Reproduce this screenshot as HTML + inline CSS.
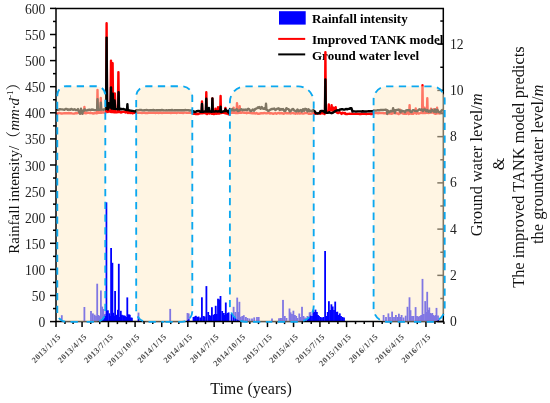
<!DOCTYPE html><html><head><meta charset="utf-8"><title>Rainfall and groundwater</title><style>html,body{margin:0;padding:0;background:#fff;}svg{display:block;}</style></head><body>
<svg width="550" height="403" viewBox="0 0 550 403">
<rect x="0" y="0" width="550" height="403" fill="#fff"/>
<g font-family="Liberation Serif, serif" font-weight="bold" font-size="13" fill="#000">
<rect x="279" y="11.2" width="26.7" height="13.4" fill="#0000ff"/>
<line x1="278.2" y1="38.9" x2="305.2" y2="38.9" stroke="#ff0000" stroke-width="2"/>
<line x1="278.2" y1="54.4" x2="305.2" y2="54.4" stroke="#000" stroke-width="2"/>
<text x="312" y="22.7">Rainfall intensity</text>
<text x="312" y="43.5">Improved TANK model</text>
<text x="312" y="59.8">Ground water level</text>
</g>
<g fill="#0000ff">
<rect x="60.90" y="315.2" width="1.8" height="6.6"/>
<rect x="83.50" y="307.0" width="1.8" height="14.8"/>
<rect x="90.10" y="311.0" width="1.8" height="10.8"/>
<rect x="92.00" y="313.4" width="1.8" height="8.4"/>
<rect x="93.80" y="314.7" width="1.8" height="7.1"/>
<rect x="95.10" y="316.0" width="1.8" height="5.8"/>
<rect x="96.30" y="283.7" width="1.8" height="38.1"/>
<rect x="97.60" y="315.0" width="1.8" height="6.8"/>
<rect x="98.80" y="316.0" width="1.8" height="5.8"/>
<rect x="100.00" y="290.5" width="1.8" height="31.3"/>
<rect x="101.30" y="306.6" width="1.8" height="15.2"/>
<rect x="102.50" y="309.0" width="1.8" height="12.8"/>
<rect x="103.60" y="314.0" width="1.8" height="7.8"/>
<rect x="105.50" y="202.3" width="1.8" height="119.5"/>
<rect x="107.00" y="310.3" width="1.8" height="11.5"/>
<rect x="108.50" y="313.3" width="1.8" height="8.5"/>
<rect x="110.20" y="248.0" width="1.8" height="73.8"/>
<rect x="111.50" y="262.8" width="1.8" height="59.0"/>
<rect x="112.50" y="312.8" width="1.8" height="9.0"/>
<rect x="114.20" y="291.0" width="1.8" height="30.8"/>
<rect x="115.30" y="314.8" width="1.8" height="7.0"/>
<rect x="117.00" y="309.8" width="1.8" height="12.0"/>
<rect x="117.90" y="263.8" width="1.8" height="58.0"/>
<rect x="119.90" y="310.8" width="1.8" height="11.0"/>
<rect x="121.10" y="314.8" width="1.8" height="7.0"/>
<rect x="122.90" y="315.3" width="1.8" height="6.5"/>
<rect x="124.10" y="315.8" width="1.8" height="6.0"/>
<rect x="126.40" y="297.4" width="1.8" height="24.4"/>
<rect x="127.90" y="314.3" width="1.8" height="7.5"/>
<rect x="128.90" y="314.8" width="1.8" height="7.0"/>
<rect x="131.00" y="317.7" width="1.8" height="4.1"/>
<rect x="104.30" y="316.0" width="1.8" height="5.8"/>
<rect x="109.30" y="316.0" width="1.8" height="5.8"/>
<rect x="113.40" y="316.0" width="1.8" height="5.8"/>
<rect x="118.90" y="317.0" width="1.8" height="4.8"/>
<rect x="120.70" y="316.0" width="1.8" height="5.8"/>
<rect x="123.70" y="317.0" width="1.8" height="4.8"/>
<rect x="125.30" y="317.0" width="1.8" height="4.8"/>
<rect x="129.90" y="317.5" width="1.8" height="4.3"/>
<rect x="137.60" y="312.6" width="1.8" height="9.2"/>
<rect x="169.30" y="308.9" width="1.8" height="12.9"/>
<rect x="186.60" y="313.0" width="1.8" height="8.8"/>
<rect x="187.80" y="313.5" width="1.8" height="8.3"/>
<rect x="192.60" y="317.0" width="1.8" height="4.8"/>
<rect x="193.80" y="316.5" width="1.8" height="5.3"/>
<rect x="195.00" y="315.8" width="1.8" height="6.0"/>
<rect x="196.30" y="317.0" width="1.8" height="4.8"/>
<rect x="197.60" y="316.5" width="1.8" height="5.3"/>
<rect x="199.30" y="317.5" width="1.8" height="4.3"/>
<rect x="201.00" y="297.3" width="1.8" height="24.5"/>
<rect x="202.60" y="316.0" width="1.8" height="5.8"/>
<rect x="203.90" y="316.5" width="1.8" height="5.3"/>
<rect x="205.50" y="286.1" width="1.8" height="35.7"/>
<rect x="207.30" y="312.0" width="1.8" height="9.8"/>
<rect x="208.70" y="315.0" width="1.8" height="6.8"/>
<rect x="209.90" y="316.0" width="1.8" height="5.8"/>
<rect x="211.00" y="307.2" width="1.8" height="14.6"/>
<rect x="212.60" y="315.0" width="1.8" height="6.8"/>
<rect x="213.70" y="314.0" width="1.8" height="7.8"/>
<rect x="214.80" y="305.8" width="1.8" height="16.0"/>
<rect x="215.90" y="314.0" width="1.8" height="7.8"/>
<rect x="217.10" y="298.7" width="1.8" height="23.1"/>
<rect x="218.20" y="299.4" width="1.8" height="22.4"/>
<rect x="219.60" y="296.0" width="1.8" height="25.8"/>
<rect x="221.30" y="311.0" width="1.8" height="10.8"/>
<rect x="222.90" y="313.0" width="1.8" height="8.8"/>
<rect x="223.90" y="315.0" width="1.8" height="6.8"/>
<rect x="224.90" y="302.5" width="1.8" height="19.3"/>
<rect x="226.10" y="314.0" width="1.8" height="7.8"/>
<rect x="226.70" y="313.0" width="1.8" height="8.8"/>
<rect x="227.70" y="312.4" width="1.8" height="9.4"/>
<rect x="230.60" y="314.0" width="1.8" height="7.8"/>
<rect x="232.70" y="306.8" width="1.8" height="15.0"/>
<rect x="234.40" y="312.0" width="1.8" height="9.8"/>
<rect x="236.30" y="297.6" width="1.8" height="24.2"/>
<rect x="237.40" y="312.0" width="1.8" height="9.8"/>
<rect x="238.50" y="301.8" width="1.8" height="20.0"/>
<rect x="239.90" y="316.8" width="1.8" height="5.0"/>
<rect x="241.40" y="316.0" width="1.8" height="5.8"/>
<rect x="242.90" y="315.2" width="1.8" height="6.6"/>
<rect x="245.00" y="317.0" width="1.8" height="4.8"/>
<rect x="246.60" y="318.0" width="1.8" height="3.8"/>
<rect x="248.60" y="318.5" width="1.8" height="3.3"/>
<rect x="251.10" y="318.5" width="1.8" height="3.3"/>
<rect x="253.30" y="317.4" width="1.8" height="4.4"/>
<rect x="256.10" y="317.0" width="1.8" height="4.8"/>
<rect x="257.80" y="317.0" width="1.8" height="4.8"/>
<rect x="271.10" y="318.5" width="1.8" height="3.3"/>
<rect x="278.10" y="318.3" width="1.8" height="3.5"/>
<rect x="279.60" y="318.0" width="1.8" height="3.8"/>
<rect x="281.10" y="318.0" width="1.8" height="3.8"/>
<rect x="282.10" y="299.9" width="1.8" height="21.9"/>
<rect x="283.90" y="316.0" width="1.8" height="5.8"/>
<rect x="285.60" y="318.0" width="1.8" height="3.8"/>
<rect x="288.60" y="308.5" width="1.8" height="13.3"/>
<rect x="289.70" y="312.4" width="1.8" height="9.4"/>
<rect x="291.10" y="314.0" width="1.8" height="7.8"/>
<rect x="292.50" y="310.7" width="1.8" height="11.1"/>
<rect x="294.00" y="315.0" width="1.8" height="6.8"/>
<rect x="295.30" y="316.0" width="1.8" height="5.8"/>
<rect x="296.60" y="318.0" width="1.8" height="3.8"/>
<rect x="298.40" y="313.5" width="1.8" height="8.3"/>
<rect x="299.60" y="317.0" width="1.8" height="4.8"/>
<rect x="301.10" y="306.8" width="1.8" height="15.0"/>
<rect x="302.60" y="316.0" width="1.8" height="5.8"/>
<rect x="304.10" y="317.5" width="1.8" height="4.3"/>
<rect x="306.50" y="316.0" width="1.8" height="5.8"/>
<rect x="307.60" y="317.0" width="1.8" height="4.8"/>
<rect x="308.70" y="312.4" width="1.8" height="9.4"/>
<rect x="309.60" y="312.0" width="1.8" height="9.8"/>
<rect x="311.10" y="316.0" width="1.8" height="5.8"/>
<rect x="312.40" y="309.6" width="1.8" height="12.2"/>
<rect x="313.40" y="312.0" width="1.8" height="9.8"/>
<rect x="314.60" y="309.6" width="1.8" height="12.2"/>
<rect x="316.00" y="312.0" width="1.8" height="9.8"/>
<rect x="317.10" y="315.0" width="1.8" height="6.8"/>
<rect x="318.10" y="316.0" width="1.8" height="5.8"/>
<rect x="319.60" y="317.0" width="1.8" height="4.8"/>
<rect x="321.10" y="317.5" width="1.8" height="4.3"/>
<rect x="322.60" y="317.0" width="1.8" height="4.8"/>
<rect x="324.20" y="251.0" width="1.8" height="70.8"/>
<rect x="325.60" y="316.0" width="1.8" height="5.8"/>
<rect x="326.80" y="312.0" width="1.8" height="9.8"/>
<rect x="328.00" y="301.2" width="1.8" height="20.6"/>
<rect x="329.30" y="310.0" width="1.8" height="11.8"/>
<rect x="330.50" y="304.3" width="1.8" height="17.5"/>
<rect x="331.80" y="306.5" width="1.8" height="15.3"/>
<rect x="333.10" y="310.0" width="1.8" height="11.8"/>
<rect x="334.30" y="301.6" width="1.8" height="20.2"/>
<rect x="335.40" y="312.0" width="1.8" height="9.8"/>
<rect x="336.40" y="311.7" width="1.8" height="10.1"/>
<rect x="337.60" y="315.0" width="1.8" height="6.8"/>
<rect x="338.90" y="313.4" width="1.8" height="8.4"/>
<rect x="340.10" y="316.0" width="1.8" height="5.8"/>
<rect x="341.60" y="317.0" width="1.8" height="4.8"/>
<rect x="343.10" y="317.5" width="1.8" height="4.3"/>
<rect x="382.70" y="315.0" width="1.8" height="6.8"/>
<rect x="385.10" y="317.0" width="1.8" height="4.8"/>
<rect x="387.50" y="313.4" width="1.8" height="8.4"/>
<rect x="389.10" y="317.0" width="1.8" height="4.8"/>
<rect x="391.20" y="311.6" width="1.8" height="10.2"/>
<rect x="393.10" y="317.0" width="1.8" height="4.8"/>
<rect x="395.00" y="315.0" width="1.8" height="6.8"/>
<rect x="396.60" y="317.0" width="1.8" height="4.8"/>
<rect x="398.00" y="313.7" width="1.8" height="8.1"/>
<rect x="399.30" y="317.0" width="1.8" height="4.8"/>
<rect x="400.70" y="315.0" width="1.8" height="6.8"/>
<rect x="402.60" y="317.5" width="1.8" height="4.3"/>
<rect x="404.80" y="315.7" width="1.8" height="6.1"/>
<rect x="406.60" y="306.8" width="1.8" height="15.0"/>
<rect x="408.60" y="297.3" width="1.8" height="24.5"/>
<rect x="409.60" y="310.2" width="1.8" height="11.6"/>
<rect x="411.10" y="316.0" width="1.8" height="5.8"/>
<rect x="412.60" y="316.0" width="1.8" height="5.8"/>
<rect x="414.70" y="307.1" width="1.8" height="14.7"/>
<rect x="416.10" y="316.0" width="1.8" height="5.8"/>
<rect x="417.60" y="316.5" width="1.8" height="5.3"/>
<rect x="419.10" y="316.0" width="1.8" height="5.8"/>
<rect x="420.30" y="315.0" width="1.8" height="6.8"/>
<rect x="421.60" y="278.9" width="1.8" height="42.9"/>
<rect x="422.90" y="314.0" width="1.8" height="7.8"/>
<rect x="424.30" y="301.1" width="1.8" height="20.7"/>
<rect x="425.30" y="312.0" width="1.8" height="9.8"/>
<rect x="426.30" y="291.8" width="1.8" height="30.0"/>
<rect x="427.40" y="310.0" width="1.8" height="11.8"/>
<rect x="428.40" y="307.5" width="1.8" height="14.3"/>
<rect x="429.60" y="313.0" width="1.8" height="8.8"/>
<rect x="430.50" y="314.0" width="1.8" height="7.8"/>
<rect x="431.40" y="313.0" width="1.8" height="8.8"/>
<rect x="432.60" y="315.0" width="1.8" height="6.8"/>
<rect x="433.60" y="316.0" width="1.8" height="5.8"/>
<rect x="434.90" y="315.0" width="1.8" height="6.8"/>
<rect x="435.60" y="307.9" width="1.8" height="13.9"/>
<rect x="437.10" y="315.5" width="1.8" height="6.3"/>
</g>
<polyline points="56.5,113.7 57.6,113.7 58.7,112.9 59.8,113.0 60.9,113.5 62.1,113.5 63.2,113.4 64.3,113.1 65.4,113.3 66.5,113.3 67.6,113.3 68.7,113.0 69.8,113.2 70.9,113.1 72.1,113.4 73.2,113.6 74.3,113.6 75.4,113.2 76.5,113.2 77.6,113.0 78.7,112.8 79.8,112.8 80.9,113.1 82.1,113.0 83.2,113.1 84.0,113.1 84.4,107.0 84.8,113.1 85.4,113.2 86.5,113.2 87.6,112.9 88.7,112.8 89.8,113.0 90.9,112.8 92.1,113.1 93.2,113.5 94.3,113.3 95.4,112.9 96.5,113.4 97.1,113.1 97.5,90.0 97.9,113.1 98.2,112.7 99.4,112.8 100.4,112.7 100.8,98.0 101.2,112.7 101.9,112.7 103.1,112.3 104.3,112.7 105.5,112.7 105.6,110.5 106.1,111.2 106.6,23.3 107.1,111.2 107.8,111.9 108.9,111.3 110.0,111.5 110.5,112.0 111.0,60.6 111.5,112.0 112.1,112.1 112.6,63.1 113.1,112.1 114.3,112.3 114.8,93.4 115.3,112.3 116.6,112.4 117.9,112.1 118.4,72.1 118.9,112.1 119.9,111.7 121.0,112.6 121.0,112.4 122.2,112.0 123.3,111.7 124.5,111.9 125.6,112.5 126.8,111.7 127.9,113.0 129.1,112.0 130.2,113.1 131.4,112.2 132.5,113.3 133.7,112.9 134.8,112.7 136.0,112.7 136.5,112.9 137.6,112.8 138.7,112.7 139.8,112.7 140.9,112.8 142.1,113.0 143.2,112.9 144.3,112.6 145.4,113.0 146.5,112.9 147.6,113.0 148.7,112.6 149.8,112.9 150.9,112.6 152.0,112.9 153.2,112.7 154.3,112.7 155.4,113.0 156.5,112.6 157.6,112.8 158.7,113.0 159.8,112.7 160.9,112.7 162.0,113.0 163.1,112.8 164.2,112.9 165.4,112.6 166.5,112.7 167.6,112.6 168.7,112.9 169.8,112.6 170.9,113.0 172.0,112.6 173.1,112.9 174.2,112.6 175.3,112.7 176.5,113.0 177.6,112.6 178.7,112.6 179.8,112.9 180.9,112.7 182.0,112.6 183.1,113.0 184.2,112.6 185.3,112.6 186.4,112.7 187.6,112.9 188.7,112.9 189.8,112.6 190.9,112.7 192.0,112.6 192.5,113.3 193.6,113.8 194.7,113.8 195.9,114.0 197.0,113.8 198.1,114.0 199.2,113.7 200.4,113.4 201.6,113.2 202.0,101.4 202.4,113.2 203.7,113.1 204.9,112.8 205.9,113.4 206.3,92.3 206.7,113.4 207.1,114.0 208.2,112.8 209.4,113.5 210.5,113.2 211.6,113.4 212.0,113.8 212.4,98.4 212.8,113.8 213.9,114.1 214.9,113.7 215.4,108.8 215.9,113.7 217.5,113.6 218.0,107.1 218.5,113.6 219.5,113.5 220.2,113.1 220.6,96.0 221.0,113.1 221.7,112.7 222.9,112.7 224.0,112.9 224.9,113.2 225.4,107.9 225.9,113.2 226.2,113.6 227.4,113.4 228.5,114.2 229.6,114.1 230.0,113.3 231.1,112.5 232.2,112.8 233.2,112.9 233.6,107.6 234.0,112.9 234.4,112.9 235.6,113.0 236.6,113.0 237.0,103.1 237.4,113.0 237.8,113.1 238.9,112.6 239.3,112.8 239.7,106.1 240.1,112.8 241.1,112.9 242.2,112.4 243.3,112.5 244.4,112.9 245.6,112.6 246.7,113.2 247.8,112.7 248.9,112.6 250.0,112.7 250.0,113.0 251.1,113.0 252.2,113.3 253.3,113.3 254.4,113.1 255.5,113.5 256.6,113.0 257.7,113.7 258.8,113.8 259.9,113.5 261.1,113.3 262.2,113.3 263.3,113.4 264.4,112.9 265.5,113.2 266.6,113.4 267.7,113.0 268.8,112.9 269.9,113.6 271.0,113.2 272.1,113.4 273.2,113.8 274.3,113.4 275.4,113.1 276.5,113.8 277.6,113.2 278.7,112.9 279.8,113.5 280.9,113.0 282.1,113.2 283.2,113.7 284.3,113.5 285.4,112.9 286.5,113.3 287.6,113.3 288.7,113.3 289.8,113.1 290.9,113.5 292.0,112.9 293.1,113.2 294.2,113.2 295.3,113.8 296.4,113.0 297.5,113.6 298.6,113.1 299.7,113.5 300.8,113.3 301.9,113.3 303.1,113.6 304.2,113.3 305.3,113.0 306.4,113.0 307.5,113.0 308.6,113.7 309.7,113.5 310.8,113.9 311.9,113.6 313.0,112.9 313.5,113.6 314.6,113.7 315.7,113.7 316.8,113.3 317.9,113.1 319.0,113.2 320.1,113.8 321.2,112.9 322.3,113.3 323.4,113.3 324.5,114.0 325.0,112.6 325.4,52.1 325.8,112.6 326.5,111.2 327.7,111.7 328.4,110.8 328.8,104.5 329.2,110.8 330.1,109.9 331.2,110.2 331.6,105.3 332.0,110.2 332.4,110.6 333.1,110.5 333.5,107.8 333.9,110.5 334.8,110.5 335.2,111.6 335.7,107.3 336.2,111.6 337.1,112.6 338.2,113.1 339.4,112.1 340.5,112.7 341.6,113.9 342.8,112.7 343.9,113.3 345.0,112.9 345.0,113.8 346.1,114.0 347.2,114.0 348.4,113.9 349.5,113.8 350.6,113.9 351.7,113.8 352.8,113.9 354.0,113.9 355.1,113.9 356.2,113.9 357.3,113.8 358.4,113.9 359.6,114.0 360.7,114.0 361.8,113.8 362.9,113.9 364.0,113.9 365.2,113.9 366.3,114.0 367.4,113.9 368.5,113.9 369.6,113.9 370.8,114.0 371.9,114.0 373.0,113.9 373.5,113.0 374.6,113.1 375.8,113.0 376.9,113.1 378.0,113.2 379.2,113.0 380.3,113.1 381.5,113.1 382.6,113.1 383.7,113.2 384.9,113.2 386.0,113.2 386.5,113.2 387.6,114.0 388.7,112.9 389.8,113.6 390.9,113.5 392.0,113.7 392.3,113.2 392.7,110.7 393.1,113.2 394.3,112.7 395.4,113.4 396.5,113.0 397.6,113.5 398.7,114.1 399.6,113.2 400.0,109.8 400.4,113.2 400.9,112.3 402.0,113.1 403.1,113.6 404.2,113.9 405.3,113.5 406.4,113.8 407.5,112.3 408.7,114.0 409.2,113.7 409.6,105.1 410.0,113.7 410.9,113.4 412.0,113.9 413.1,113.9 414.2,112.5 415.3,113.1 415.7,108.5 416.1,113.1 416.4,113.7 417.5,112.7 418.6,113.6 419.7,113.4 420.8,112.6 422.1,113.0 422.5,85.3 422.9,113.0 424.1,113.1 424.5,107.8 424.9,113.1 425.3,113.1 426.4,112.8 426.9,112.9 427.3,98.3 427.7,112.9 428.6,113.1 429.7,112.7 430.6,112.6 431.0,108.8 431.4,112.6 431.9,112.4 433.0,112.3 433.6,113.1 434.0,109.3 434.4,113.1 435.2,113.8 436.4,113.5 436.7,113.3 437.1,107.8 437.5,113.3 438.6,113.2 439.7,113.5 440.8,112.9 441.9,112.8 443.0,113.2" fill="none" stroke="#ff0000" stroke-width="2.4" stroke-linejoin="round"/>
<polyline points="56.5,109.0 57.6,109.8 58.8,109.7 59.9,109.1 61.0,109.4 62.2,109.4 63.3,109.6 64.4,109.8 65.6,109.0 66.7,108.9 67.8,109.9 68.9,109.4 70.1,109.8 71.2,108.9 72.3,109.5 73.5,109.8 74.6,109.2 75.7,110.1 76.9,110.1 78.0,109.0 78.5,110.8 78.9,110.8 79.2,112.3 79.7,111.5 80.0,113.8 80.3,111.5 80.7,111.2 81.0,108.8 81.3,111.2 81.8,110.8 82.1,110.8 82.4,113.8 82.7,110.8 84.0,110.8 84.5,109.4 85.7,110.1 86.9,110.5 88.1,109.9 89.3,109.7 90.5,110.0 91.7,109.5 92.9,109.7 94.1,110.0 95.3,110.1 96.5,109.8 97.1,109.7 97.5,99.3 97.9,109.7 98.3,109.6 99.6,109.8 100.4,109.6 100.8,102.6 101.2,109.6 102.2,109.5 103.5,110.0 103.5,109.4 105.5,109.2 105.6,108.3 106.1,108.8 106.6,37.6 107.1,108.8 107.8,109.4 108.4,109.0 108.8,103.1 109.2,106.1 109.5,103.8 109.8,106.1 110.5,107.6 111.0,87.4 111.5,107.6 111.7,108.6 112.3,108.6 112.8,93.8 113.3,108.6 114.0,108.8 114.6,100.5 115.2,108.8 116.6,109.1 118.1,109.2 118.6,92.2 119.1,109.2 119.9,109.4 121.0,109.4 121.0,108.8 122.2,109.1 123.3,109.0 124.5,109.3 125.6,109.8 127.0,110.1 127.4,104.3 127.8,110.1 129.1,110.3 130.2,110.6 131.4,110.8 132.5,110.9 133.7,111.1 134.8,111.4 136.0,111.8 136.5,110.1 137.6,110.1 138.7,110.1 139.8,109.9 140.9,109.9 142.1,110.2 143.2,110.4 144.3,110.2 145.4,110.1 146.5,110.0 147.6,110.1 148.7,110.4 149.8,110.3 150.9,110.2 152.0,110.3 153.2,110.0 154.3,110.2 155.4,110.4 156.5,110.2 157.6,110.2 158.7,110.1 159.8,110.2 160.9,110.4 162.0,109.9 163.1,110.3 164.2,110.4 165.4,110.4 166.5,110.3 167.6,110.4 168.7,110.2 169.8,110.3 170.9,110.2 172.0,110.0 173.1,110.4 174.2,110.3 175.3,110.1 176.5,110.2 177.6,110.2 178.7,110.2 179.8,110.2 180.9,110.3 182.0,110.3 183.1,110.3 184.2,110.3 185.3,110.0 186.4,110.1 187.6,110.1 188.7,110.3 189.8,110.5 190.9,110.4 192.0,110.4 192.5,112.0 193.6,111.3 194.7,112.0 195.8,111.8 196.9,111.1 198.0,111.0 199.2,111.0 200.3,111.9 201.6,111.8 202.0,104.0 202.4,111.8 203.6,111.7 204.7,111.4 205.9,111.5 206.3,98.8 206.7,111.5 208.0,111.6 208.4,111.5 208.9,107.9 209.4,111.5 210.2,111.3 211.4,111.9 212.0,111.6 212.4,98.4 212.8,111.6 213.6,111.4 214.7,111.6 215.8,111.0 216.9,111.5 218.0,111.5 219.1,111.2 220.2,111.7 220.6,106.6 221.0,111.7 221.3,112.1 222.5,111.6 223.6,111.3 224.9,111.1 225.4,109.2 225.9,111.1 226.9,111.0 228.0,111.0 228.2,112.2 228.4,111.0 228.6,112.2 229.6,113.4 230.0,109.0 231.1,110.5 232.3,109.0 233.4,110.4 234.5,110.4 235.7,110.0 236.8,109.2 238.0,111.1 239.1,110.7 240.2,109.9 241.4,109.2 242.5,110.3 243.6,109.6 244.8,110.1 245.9,109.4 247.0,110.2 248.2,108.8 249.3,109.4 250.5,111.1 251.6,110.9 252.7,109.4 253.9,110.8 255.0,109.4 255.0,109.2 256.1,108.7 257.4,107.9 258.0,107.3 258.6,107.9 259.4,107.1 260.6,108.8 261.7,107.0 262.8,108.5 263.9,108.8 265.0,107.9 265.6,109.2 266.0,103.8 266.4,109.2 267.6,110.5 268.7,110.9 269.8,110.0 270.9,109.4 272.0,109.0 273.1,109.0 274.2,108.5 275.4,110.0 276.5,109.3 277.6,108.6 278.7,108.3 279.8,110.1 280.9,109.0 282.0,109.6 283.1,109.1 284.2,110.9 285.3,111.0 286.4,108.2 287.5,108.8 288.6,109.2 289.8,111.4 290.9,110.7 292.0,109.3 293.1,109.0 294.2,110.5 295.3,111.0 296.4,111.3 297.5,109.5 298.6,111.2 299.7,110.6 300.8,110.0 301.9,111.6 303.0,109.2 304.1,110.8 305.2,108.8 306.4,109.1 307.5,111.5 308.6,109.3 309.7,111.1 310.8,110.6 311.9,111.4 313.0,109.9 313.5,110.4 314.8,111.5 316.0,113.2 316.0,113.2 317.3,113.5 318.7,113.3 320.0,112.4 320.2,111.4 321.3,111.0 322.4,111.0 323.5,111.2 324.6,112.2 325.0,112.5 325.4,79.4 325.8,112.5 326.5,112.8 327.8,112.9 329.1,112.2 330.4,112.8 331.7,113.2 333.0,112.6 333.5,112.4 334.8,111.4 336.1,110.7 337.4,110.3 338.7,110.4 340.0,109.5 340.0,109.7 341.2,109.3 342.4,109.2 343.6,109.6 344.8,109.6 345.9,108.9 347.1,109.4 348.3,108.9 349.5,108.9 350.0,108.3 351.5,108.3 352.5,111.6 353.6,111.4 354.8,111.4 355.9,111.6 357.1,111.4 358.2,111.4 359.3,111.4 360.5,111.4 361.6,111.5 362.8,111.3 363.9,111.5 365.0,111.4 366.2,111.5 367.3,111.4 368.4,111.3 369.6,111.3 370.7,111.3 371.9,111.2 373.0,111.3 373.5,110.6 374.7,110.5 375.9,110.6 377.1,110.3 378.3,110.3 379.5,110.2 380.7,110.0 381.9,109.9 383.1,110.0 384.3,109.9 385.5,109.8 386.0,109.6 386.9,110.4 387.2,113.8 387.5,110.4 388.2,111.2 389.4,112.3 390.5,110.9 391.6,111.4 392.7,110.7 393.1,108.2 393.5,110.7 393.8,110.0 394.5,110.1 394.8,112.8 395.1,110.1 396.1,110.2 397.2,110.0 398.3,109.5 399.4,110.1 400.5,112.3 401.6,110.6 402.8,111.3 403.9,111.3 405.0,112.2 406.1,110.4 407.2,110.2 408.4,110.2 409.5,110.2 410.6,111.9 411.7,112.1 412.8,110.2 413.9,110.3 415.1,110.9 416.2,111.1 417.3,111.1 418.4,110.0 419.5,109.3 420.6,110.0 421.8,109.4 422.9,111.0 424.0,109.4 425.1,109.4 426.2,111.2 427.4,110.1 428.5,111.7 429.6,110.8 430.7,112.0 431.8,109.7 432.9,110.8 434.1,111.7 435.2,109.4 436.3,112.2 437.4,109.8 438.5,111.7 439.6,112.4 440.8,111.8 441.9,110.2 443.0,109.5" fill="none" stroke="#000" stroke-width="2.4" stroke-linejoin="round"/>
<g stroke="#000" stroke-width="1.5" fill="none">
<path d="M56.0,321.6 L56.0,8.4 L443.3,8.4 L443.3,321.6 Z"/>
<line x1="50.0" y1="321.60" x2="56.0" y2="321.60"/>
<line x1="53.0" y1="308.55" x2="56.0" y2="308.55"/>
<line x1="50.0" y1="295.50" x2="56.0" y2="295.50"/>
<line x1="53.0" y1="282.45" x2="56.0" y2="282.45"/>
<line x1="50.0" y1="269.40" x2="56.0" y2="269.40"/>
<line x1="53.0" y1="256.35" x2="56.0" y2="256.35"/>
<line x1="50.0" y1="243.30" x2="56.0" y2="243.30"/>
<line x1="53.0" y1="230.25" x2="56.0" y2="230.25"/>
<line x1="50.0" y1="217.20" x2="56.0" y2="217.20"/>
<line x1="53.0" y1="204.15" x2="56.0" y2="204.15"/>
<line x1="50.0" y1="191.10" x2="56.0" y2="191.10"/>
<line x1="53.0" y1="178.05" x2="56.0" y2="178.05"/>
<line x1="50.0" y1="165.00" x2="56.0" y2="165.00"/>
<line x1="53.0" y1="151.95" x2="56.0" y2="151.95"/>
<line x1="50.0" y1="138.90" x2="56.0" y2="138.90"/>
<line x1="53.0" y1="125.85" x2="56.0" y2="125.85"/>
<line x1="50.0" y1="112.80" x2="56.0" y2="112.80"/>
<line x1="53.0" y1="99.75" x2="56.0" y2="99.75"/>
<line x1="50.0" y1="86.70" x2="56.0" y2="86.70"/>
<line x1="53.0" y1="73.65" x2="56.0" y2="73.65"/>
<line x1="50.0" y1="60.60" x2="56.0" y2="60.60"/>
<line x1="53.0" y1="47.55" x2="56.0" y2="47.55"/>
<line x1="50.0" y1="34.50" x2="56.0" y2="34.50"/>
<line x1="53.0" y1="21.45" x2="56.0" y2="21.45"/>
<line x1="50.0" y1="8.40" x2="56.0" y2="8.40"/>
<line x1="437.3" y1="321.60" x2="443.3" y2="321.60"/>
<line x1="440.3" y1="298.48" x2="443.3" y2="298.48"/>
<line x1="437.3" y1="275.36" x2="443.3" y2="275.36"/>
<line x1="440.3" y1="252.24" x2="443.3" y2="252.24"/>
<line x1="437.3" y1="229.12" x2="443.3" y2="229.12"/>
<line x1="440.3" y1="206.00" x2="443.3" y2="206.00"/>
<line x1="437.3" y1="182.88" x2="443.3" y2="182.88"/>
<line x1="440.3" y1="159.76" x2="443.3" y2="159.76"/>
<line x1="437.3" y1="136.64" x2="443.3" y2="136.64"/>
<line x1="440.3" y1="113.52" x2="443.3" y2="113.52"/>
<line x1="437.3" y1="90.40" x2="443.3" y2="90.40"/>
<line x1="440.3" y1="67.28" x2="443.3" y2="67.28"/>
<line x1="437.3" y1="44.16" x2="443.3" y2="44.16"/>
<line x1="440.3" y1="21.04" x2="443.3" y2="21.04"/>
<line x1="56.00" y1="321.6" x2="56.00" y2="327.1"/>
<line x1="64.98" y1="321.6" x2="64.98" y2="324.1"/>
<line x1="73.09" y1="321.6" x2="73.09" y2="324.1"/>
<line x1="82.07" y1="321.6" x2="82.07" y2="327.1"/>
<line x1="90.76" y1="321.6" x2="90.76" y2="324.1"/>
<line x1="99.74" y1="321.6" x2="99.74" y2="324.1"/>
<line x1="108.44" y1="321.6" x2="108.44" y2="327.1"/>
<line x1="117.42" y1="321.6" x2="117.42" y2="324.1"/>
<line x1="126.40" y1="321.6" x2="126.40" y2="324.1"/>
<line x1="135.09" y1="321.6" x2="135.09" y2="327.1"/>
<line x1="144.07" y1="321.6" x2="144.07" y2="324.1"/>
<line x1="152.76" y1="321.6" x2="152.76" y2="324.1"/>
<line x1="161.74" y1="321.6" x2="161.74" y2="327.1"/>
<line x1="170.72" y1="321.6" x2="170.72" y2="324.1"/>
<line x1="178.83" y1="321.6" x2="178.83" y2="324.1"/>
<line x1="187.81" y1="321.6" x2="187.81" y2="327.1"/>
<line x1="196.50" y1="321.6" x2="196.50" y2="324.1"/>
<line x1="205.49" y1="321.6" x2="205.49" y2="324.1"/>
<line x1="214.18" y1="321.6" x2="214.18" y2="327.1"/>
<line x1="223.16" y1="321.6" x2="223.16" y2="324.1"/>
<line x1="232.14" y1="321.6" x2="232.14" y2="324.1"/>
<line x1="240.83" y1="321.6" x2="240.83" y2="327.1"/>
<line x1="249.81" y1="321.6" x2="249.81" y2="324.1"/>
<line x1="258.50" y1="321.6" x2="258.50" y2="324.1"/>
<line x1="267.48" y1="321.6" x2="267.48" y2="327.1"/>
<line x1="276.46" y1="321.6" x2="276.46" y2="324.1"/>
<line x1="284.57" y1="321.6" x2="284.57" y2="324.1"/>
<line x1="293.55" y1="321.6" x2="293.55" y2="327.1"/>
<line x1="302.25" y1="321.6" x2="302.25" y2="324.1"/>
<line x1="311.23" y1="321.6" x2="311.23" y2="324.1"/>
<line x1="319.92" y1="321.6" x2="319.92" y2="327.1"/>
<line x1="328.90" y1="321.6" x2="328.90" y2="324.1"/>
<line x1="337.88" y1="321.6" x2="337.88" y2="324.1"/>
<line x1="346.57" y1="321.6" x2="346.57" y2="327.1"/>
<line x1="355.55" y1="321.6" x2="355.55" y2="324.1"/>
<line x1="364.24" y1="321.6" x2="364.24" y2="324.1"/>
<line x1="373.22" y1="321.6" x2="373.22" y2="327.1"/>
<line x1="382.20" y1="321.6" x2="382.20" y2="324.1"/>
<line x1="390.60" y1="321.6" x2="390.60" y2="324.1"/>
<line x1="399.58" y1="321.6" x2="399.58" y2="327.1"/>
<line x1="408.28" y1="321.6" x2="408.28" y2="324.1"/>
<line x1="417.26" y1="321.6" x2="417.26" y2="324.1"/>
<line x1="425.95" y1="321.6" x2="425.95" y2="327.1"/>
<line x1="434.93" y1="321.6" x2="434.93" y2="324.1"/>
<line x1="443.91" y1="321.6" x2="443.91" y2="324.1"/>
</g>
<g fill="rgb(255,235,200)" fill-opacity="0.5">
<path d="M81.30,321.80 L66.20,321.80 A8.9,8.9 0 0 1 57.30,312.90 L57.30,95.10 A8.9,8.9 0 0 1 66.20,86.20 L96.40,86.20 A8.9,8.9 0 0 1 105.30,95.10 L105.30,312.90 A8.9,8.9 0 0 1 96.40,321.80 Z"/>
<path d="M164.25,321.80 L146.60,321.80 A10.4,10.4 0 0 1 136.20,311.40 L136.20,96.60 A10.4,10.4 0 0 1 146.60,86.20 L181.90,86.20 A10.4,10.4 0 0 1 192.30,96.60 L192.30,311.40 A10.4,10.4 0 0 1 181.90,321.80 Z"/>
<path d="M271.80,321.80 L245.40,321.80 A15.5,15.5 0 0 1 229.90,306.30 L229.90,101.90 A15.5,15.5 0 0 1 245.40,86.40 L298.20,86.40 A15.5,15.5 0 0 1 313.70,101.90 L313.70,306.30 A15.5,15.5 0 0 1 298.20,321.80 Z"/>
<path d="M409.15,321.80 L386.80,321.80 A13.2,13.2 0 0 1 373.60,308.60 L373.60,99.50 A13.2,13.2 0 0 1 386.80,86.30 L431.50,86.30 A13.2,13.2 0 0 1 444.70,99.50 L444.70,308.60 A13.2,13.2 0 0 1 431.50,321.80 Z"/>
</g>
<g fill="none" stroke="#0ba8f0" stroke-width="1.85" stroke-dasharray="7.3 5.45">
<path d="M81.30,321.80 L66.20,321.80 A8.9,8.9 0 0 1 57.30,312.90 L57.30,95.10 A8.9,8.9 0 0 1 66.20,86.20 L96.40,86.20 A8.9,8.9 0 0 1 105.30,95.10 L105.30,312.90 A8.9,8.9 0 0 1 96.40,321.80 Z" stroke-dashoffset="9.29"/>
<path d="M164.25,321.80 L146.60,321.80 A10.4,10.4 0 0 1 136.20,311.40 L136.20,96.60 A10.4,10.4 0 0 1 146.60,86.20 L181.90,86.20 A10.4,10.4 0 0 1 192.30,96.60 L192.30,311.40 A10.4,10.4 0 0 1 181.90,321.80 Z" stroke-dashoffset="4.33"/>
<path d="M271.80,321.80 L245.40,321.80 A15.5,15.5 0 0 1 229.90,306.30 L229.90,101.90 A15.5,15.5 0 0 1 245.40,86.40 L298.20,86.40 A15.5,15.5 0 0 1 313.70,101.90 L313.70,306.30 A15.5,15.5 0 0 1 298.20,321.80 Z" stroke-dashoffset="1.31"/>
<path d="M409.15,321.80 L386.80,321.80 A13.2,13.2 0 0 1 373.60,308.60 L373.60,99.50 A13.2,13.2 0 0 1 386.80,86.30 L431.50,86.30 A13.2,13.2 0 0 1 444.70,99.50 L444.70,308.60 A13.2,13.2 0 0 1 431.50,321.80 Z" stroke-dashoffset="8.58"/>
</g>
<g font-family="Liberation Serif, serif" font-size="13.6" fill="#222">
<text x="45.4" y="327.1" text-anchor="end">0</text>
<text x="45.4" y="301.0" text-anchor="end">50</text>
<text x="45.4" y="274.9" text-anchor="end">100</text>
<text x="45.4" y="248.8" text-anchor="end">150</text>
<text x="45.4" y="222.7" text-anchor="end">200</text>
<text x="45.4" y="196.6" text-anchor="end">250</text>
<text x="45.4" y="170.5" text-anchor="end">300</text>
<text x="45.4" y="144.4" text-anchor="end">350</text>
<text x="45.4" y="118.3" text-anchor="end">400</text>
<text x="45.4" y="92.2" text-anchor="end">450</text>
<text x="45.4" y="66.1" text-anchor="end">500</text>
<text x="45.4" y="40.0" text-anchor="end">550</text>
<text x="45.4" y="13.9" text-anchor="end">600</text>
<text x="450" y="326.1">0</text>
<text x="450" y="279.9">2</text>
<text x="450" y="233.6">4</text>
<text x="450" y="187.4">6</text>
<text x="450" y="141.1">8</text>
<text x="450" y="94.9">10</text>
<text x="450" y="48.7">12</text>
</g>
<g font-family="Liberation Serif, serif" font-size="8.4" font-weight="bold" letter-spacing="0.35" fill="#505050">
<text transform="translate(61.2,337.3) rotate(-45)" text-anchor="end">2013/1/15</text>
<text transform="translate(87.3,337.3) rotate(-45)" text-anchor="end">2013/4/15</text>
<text transform="translate(113.6,337.3) rotate(-45)" text-anchor="end">2013/7/15</text>
<text transform="translate(140.3,337.3) rotate(-45)" text-anchor="end">2013/10/15</text>
<text transform="translate(166.9,337.3) rotate(-45)" text-anchor="end">2014/1/15</text>
<text transform="translate(193.0,337.3) rotate(-45)" text-anchor="end">2014/4/15</text>
<text transform="translate(219.4,337.3) rotate(-45)" text-anchor="end">2014/7/15</text>
<text transform="translate(246.0,337.3) rotate(-45)" text-anchor="end">2014/10/15</text>
<text transform="translate(272.7,337.3) rotate(-45)" text-anchor="end">2015/1/15</text>
<text transform="translate(298.8,337.3) rotate(-45)" text-anchor="end">2015/4/15</text>
<text transform="translate(325.1,337.3) rotate(-45)" text-anchor="end">2015/7/15</text>
<text transform="translate(351.8,337.3) rotate(-45)" text-anchor="end">2015/10/15</text>
<text transform="translate(378.4,337.3) rotate(-45)" text-anchor="end">2016/1/15</text>
<text transform="translate(404.8,337.3) rotate(-45)" text-anchor="end">2016/4/15</text>
<text transform="translate(431.1,337.3) rotate(-45)" text-anchor="end">2016/7/15</text>
</g>
<g font-family="Liberation Serif, serif" font-size="16" fill="#111">
<text x="251" y="393.8" text-anchor="middle">Time (years)</text>
<text transform="translate(482,164.8) rotate(-90)" text-anchor="middle" font-size="16.4">Ground water level/<tspan font-style="italic">m</tspan></text>
<text transform="translate(503.5,164) rotate(-90)" text-anchor="middle">&amp;</text>
<text transform="translate(523.8,167.1) rotate(-90)" text-anchor="middle" font-size="16.4">The improved TANK model predicts</text>
<text transform="translate(543,164.3) rotate(-90)" text-anchor="middle" font-size="16.4">the groundwater level/<tspan font-style="italic">m</tspan></text>
<text transform="translate(18.6,164.6) rotate(-90)" text-anchor="middle" font-size="15">Rainfall intensity/<tspan font-family="Liberation Serif, Noto Serif CJK SC, serif">（</tspan><tspan font-style="italic">mm·d</tspan><tspan font-size="9" dy="-6">-1</tspan><tspan dy="6" font-family="Liberation Serif, Noto Serif CJK SC, serif">）</tspan></text>
</g>
</svg></body></html>
